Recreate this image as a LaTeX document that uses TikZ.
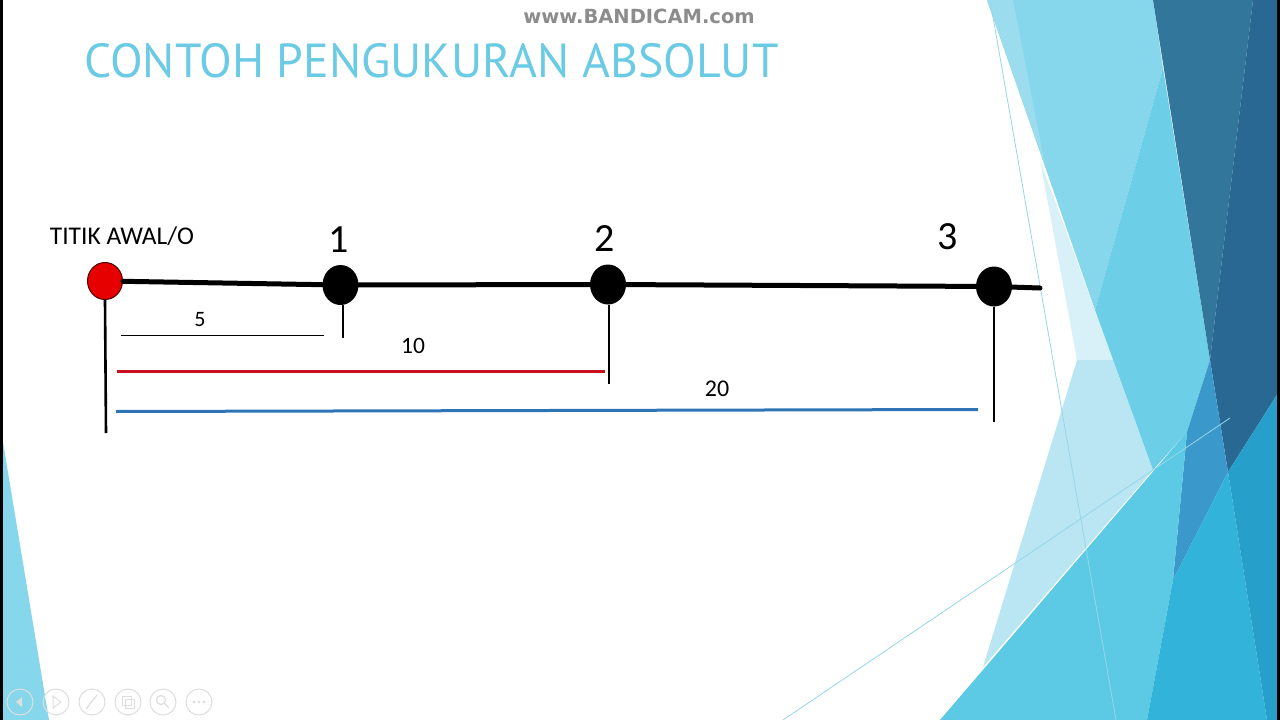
\documentclass[tikz,border=0pt]{standalone}
\usepackage{fontspec}
\setmainfont{Carlito}
\newfontfamily\titlefont{PT Sans}
\newfontfamily\wmfont{DejaVu Sans}
\usetikzlibrary{shapes.geometric}
\definecolor{titleblue}{RGB}{108,203,228}
\definecolor{lightblue}{RGB}{134,214,236}
\definecolor{lighterblue}{RGB}{155,221,239}
\definecolor{paleA}{RGB}{216,240,248}
\definecolor{paleB}{RGB}{186,230,243}
\definecolor{cyanA}{RGB}{108,207,231}
\definecolor{steel}{RGB}{51,118,156}
\definecolor{deep}{RGB}{42,104,148}
\definecolor{medblue}{RGB}{59,152,202}
\definecolor{cyanB}{RGB}{92,202,229}
\definecolor{cyanC}{RGB}{50,180,218}
\definecolor{cyanD}{RGB}{39,159,203}
\definecolor{thinline}{RGB}{150,214,234}
\definecolor{ptred}{RGB}{230,0,0}
\definecolor{dimred}{RGB}{200,16,30}
\definecolor{dimblue}{RGB}{46,117,182}
\definecolor{navgray}{RGB}{222,222,222}
\tikzset{
  bigpt/.style={ellipse, fill=black, minimum width=36pt, minimum height=40pt, inner sep=0pt},
  originpt/.style={ellipse, fill=ptred, draw=black!70!red, line width=1pt, minimum width=35pt, minimum height=37pt, inner sep=0pt},
  axisline/.style={line width=5pt, line cap=round},
  tickline/.style={line width=2.6pt},
  numlabel/.style={font=\fontsize{40}{40}\selectfont, inner sep=0pt},
  dimlabel/.style={inner sep=0pt},
  navbtn/.style={circle, draw=navgray, line width=1pt, minimum size=26pt, inner sep=0pt}
}
\begin{document}
\begin{tikzpicture}[x=1pt, y=-1pt]
\useasboundingbox (0,0) rectangle (1280,720);
\fill[white] (0,0) rectangle (1280,720);
% ---- background facets ----
\fill[lightblue] (987,0) -- (1153,0) -- (1163,68) -- (1095,310) -- cycle;
\fill[lighterblue] (987,0) -- (1013,0) -- (1045,165) -- cycle;
\fill[paleA] (1040,160) -- (1113,360) -- (1077,360) -- cycle;
\fill[paleB] (1077,360) -- (1113,360) -- (1153,470) -- (983,667) -- cycle;
\fill[cyanA] (1163,68) -- (1210,360) -- (1187,432) -- (1153,470) -- (1095,310) -- cycle;
\fill[steel] (1153,0) -- (1253,0) -- (1210,360) -- cycle;
\fill[deep] (1253,0) -- (1280,0) -- (1280,390) -- (1228,472) -- (1210,360) -- cycle;
\fill[medblue] (1210,360) -- (1228,472) -- (1173,580) -- (1187,432) -- cycle;
\fill[cyanB] (940,720) -- (1187,432) -- (1173,580) -- (1147,720) -- cycle;
\fill[cyanC] (1147,720) -- (1173,580) -- (1228,472) -- (1267,720) -- cycle;
\fill[cyanD] (1228,472) -- (1280,390) -- (1280,720) -- (1267,720) -- cycle;
\draw[thinline, line width=0.8pt] (990,0) -- (1116,720);
\draw[thinline, line width=0.8pt] (783,720) -- (1230,418);
\fill[lightblue] (0,424) -- (49,720) -- (0,720) -- cycle;
\fill[black] (0,0) rectangle (2.5,720);
\fill[black] (1277,0) rectangle (1280,720);
% ---- watermark ----
\node[font=\wmfont\bfseries\fontsize{19.5}{19.5}\selectfont, text=black!45, inner sep=0pt] (wm) at (639,16) {www.BANDICAM.com};
% ---- title ----
\node[anchor=west, font=\titlefont\fontsize{47.8}{47.8}\selectfont, text=titleblue, inner sep=0pt] (title) at (84,61) {CONTOH PENGUKURAN ABSOLUT};
% ---- points ----
\node[originpt] (o) at (105,281) {};
\node[bigpt] (p1) at (340.5,285) {};
\node[bigpt] (p2) at (608,284.5) {};
\node[bigpt] (p3) at (994,286.5) {};
\coordinate (lend) at (1040,288);
\draw[axisline] (o) -- (p1);
\draw[axisline] (p1) -- (p2);
\draw[axisline] (p2) -- (p3);
\draw[axisline] (p3) -- (lend);
% ---- labels ----
\node[font=\fontsize{25.5}{25.5}\selectfont, inner sep=0pt] (olab) at (122,236) {TITIK AWAL/O};
\node[numlabel] (n1) at (339,240) {1};
\node[numlabel] (n2) at (605,238.5) {2};
\node[numlabel] (n3) at (948,236.5) {3};
% ---- ticks ----
\coordinate (t0) at (106,433);
\coordinate (t1) at (343,338);
\coordinate (t2) at (609,384);
\coordinate (t3) at (994,422);
\draw[tickline] (o.south) -- (t0);
\draw[tickline] (p1.south -| t1) -- (t1);
\draw[tickline] (p2.south -| t2) -- (t2);
\draw[tickline] (p3.south) -- (t3);
% ---- dimension lines ----
\coordinate (d5a) at (121,335.5);
\coordinate (d5b) at (324,335.5);
\coordinate (d10a) at (117,371);
\coordinate (d10b) at (605,371);
\coordinate (d20a) at (116,411.5);
\coordinate (d20b) at (978,409.5);
\draw[line width=1.5pt] (d5a) -- (d5b);
\draw[dimred, line width=3pt] (d10a) -- (d10b);
\draw[dimblue, line width=3pt] (d20a) -- (d20b);
\node[dimlabel, font=\fontsize{22}{22}\selectfont] (l5) at (200,320) {5};
\node[dimlabel, font=\fontsize{23.5}{23.5}\selectfont] (l10) at (413,346) {10};
\node[dimlabel, font=\fontsize{24}{24}\selectfont] (l20) at (717,389) {20};
% ---- navigation buttons ----
\node[navbtn] (b1) at (20,702) {};
\node[navbtn] (b2) at (56,702) {};
\node[navbtn] (b3) at (92,702) {};
\node[navbtn] (b4) at (128,702) {};
\node[navbtn] (b5) at (163,702) {};
\node[navbtn] (b6) at (199,702) {};
\fill[navgray] (16,702) -- (22,697) -- (22,707) -- cycle;
\draw[navgray, line width=1pt] (53,696) -- (61,702) -- (53,708) -- cycle;
\draw[navgray, line width=1.2pt] (86,709) -- (97,695);
\draw[navgray, line width=1pt] (122,696) rectangle (131,705) (125,699) rectangle (134,708);
\draw[navgray, line width=1.2pt] (161,700) circle (4.5) (164.5,703.5) -- (169,708);
\fill[navgray] (194,702) circle (1.6) (199,702) circle (1.6) (204,702) circle (1.6);
\end{tikzpicture}
\end{document}
